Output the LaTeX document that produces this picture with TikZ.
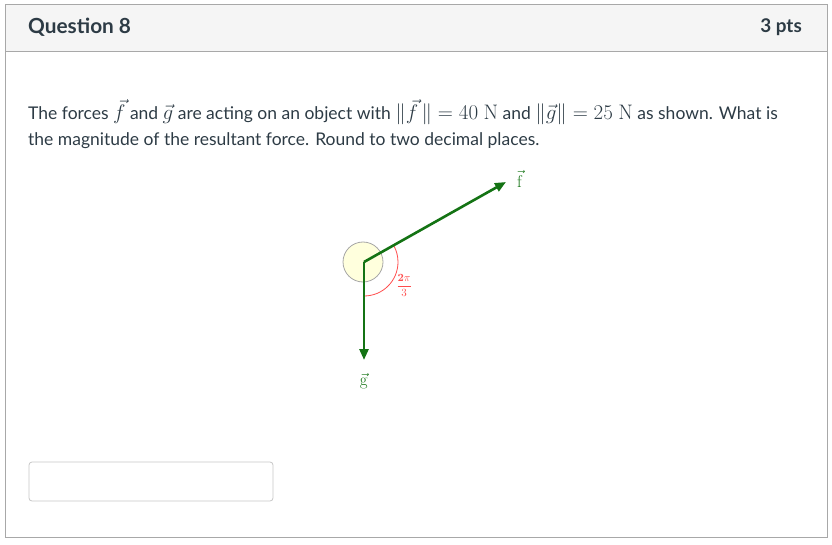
\RequirePackage{fix-cm}
\documentclass[tikz,border=0pt]{standalone}
\usepackage[no-math]{fontspec}
\setmainfont{Lato}
\usetikzlibrary{arrows.meta}
\definecolor{framegray}{HTML}{A8A8A8}
\definecolor{headbg}{HTML}{F5F5F5}
\definecolor{txt}{HTML}{2D3B45}
\definecolor{vgreen}{HTML}{147314}
\definecolor{angred}{HTML}{FF4D4D}
\definecolor{ballfill}{HTML}{FFFFDD}
\newcommand{\bigmath}[1]{{\fontsize{21}{22}\selectfont$#1$}}
\tikzset{
  vec/.style={vgreen, line width=2.6pt, -{Stealth[length=11pt,width=9pt,inset=0pt]}},
  vlabel/.style={vgreen, font=\fontsize{17}{18}\selectfont},
  body/.style={txt, anchor=west, inner sep=0pt, font=\fontsize{17.5}{20}\selectfont},
}
\begin{document}
\begin{tikzpicture}[x=1pt,y=-1pt]
\useasboundingbox (0,0) rectangle (832,545);
% frame and header
\fill[headbg] (5,5) rectangle (827,52);
\draw[framegray, line width=1pt] (5,5) rectangle (827,537);
\draw[framegray, line width=1pt] (5,52) -- (827,52);
\node[txt, anchor=west, inner sep=0pt, font=\fontsize{20.8}{24}\bfseries\selectfont] (qtitle) at (28,27) {Question 8};
\node[txt, anchor=east, inner sep=0pt, font=\fontsize{18.9}{22}\bfseries\selectfont] (pts) at (802,27) {3 pts};
% question text
\node[body] (line1) at (28,112) {The forces \bigmath{\vec{f}} and \bigmath{\vec{g}} are acting on an object with \bigmath{\|\vec{f}\,\|=40\ \mathrm{N}} and \bigmath{\|\vec{g}\|=25\ \mathrm{N}} as shown. What is};
\node[body] (line2) at (28,141) {the magnitude of the resultant force. Round to two decimal places.};
% diagram
\node[circle, draw=gray!70, fill=ballfill, line width=0.8pt, minimum size=40pt, inner sep=0pt] (ball) at (363,262) {};
\coordinate (o) at (364,262);
\coordinate (ftip) at (506,182);
\coordinate (gtip) at (364,360);
\draw[angred, line width=0.8pt] ([shift={(90:34)}]o) arc[start angle=90, end angle=-30, radius=34];
\draw[vec] (o) -- (ftip);
\draw[vec] (o) -- (gtip);
\node[vlabel] (flab) at (520,179) {$\vec{\mathrm{f}}$};
\node[vlabel] (glab) at (364,381) {$\vec{\mathrm{g}}$};
\node[angred, font=\fontsize{11}{11}\selectfont, inner sep=0pt] (ang) at (404,285) {$\displaystyle\frac{\mathbf{2}\pi}{3}$};
% answer box
\draw[gray!45, line width=0.8pt, rounded corners=3pt] (29,462) rectangle (273,501);
\end{tikzpicture}
\end{document}
